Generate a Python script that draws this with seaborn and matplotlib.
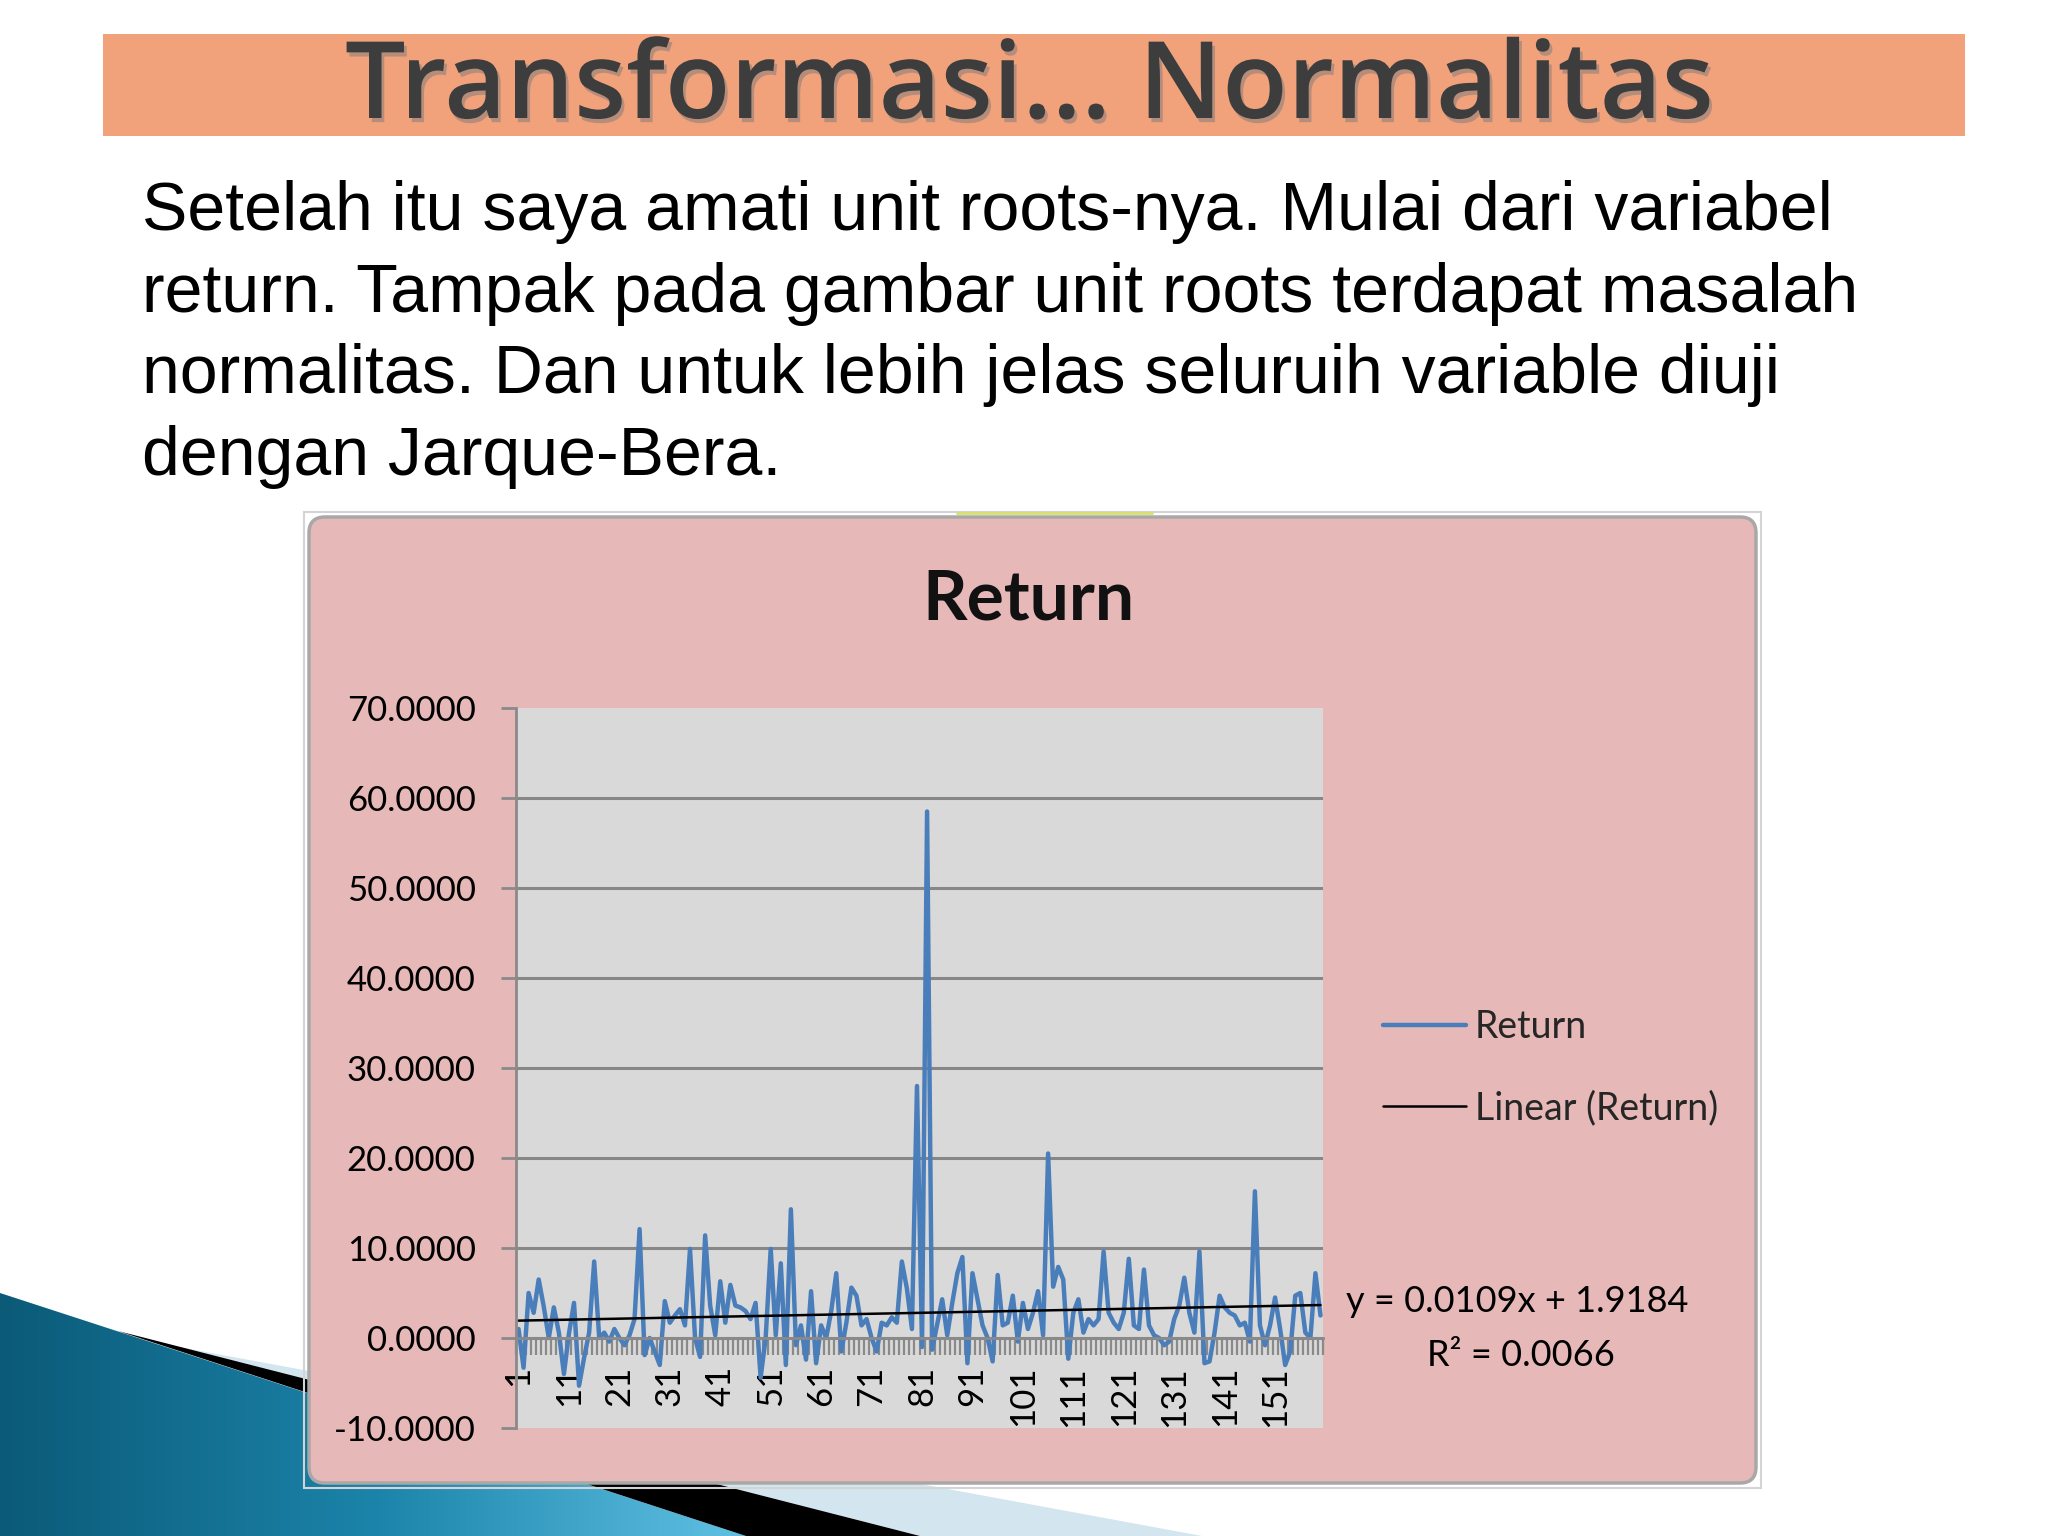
import numpy as np
import pandas as pd
import matplotlib.pyplot as plt
import matplotlib.patheffects as pe
from matplotlib.patches import Polygon, FancyBboxPatch, Rectangle
from matplotlib.colors import LinearSegmentedColormap
from matplotlib.lines import Line2D
import seaborn as sns

# --- Teks slide ---
judul_slide = "Transformasi... Normalitas"
paragraf = [
    "Setelah itu saya amati unit roots-nya. Mulai dari variabel",
    "return. Tampak pada gambar unit roots terdapat masalah",
    "normalitas. Dan untuk lebih jelas seluruih variable diuji",
    "dengan Jarque-Bera.",
]
judul_grafik = "Return"

# --- Data ---
nilai_return = [
    1.0, -3.3, 5.0, 2.8, 6.5, 3.5, 0.0, 3.4, 0.6, -4.0,
    0.5, 3.9, -5.3, -2.2, 0.6, 8.5, 0.0, 0.6, -0.4, 1.0,
    0.0, -0.8, 0.3, 2.1, 12.1, -1.9, 0.0, -1.5, -3.0, 4.1,
    1.7, 2.5, 3.2, 1.4, 9.9, 0.0, -2.1, 11.4, 3.6, 0.3,
    6.3, 1.7, 5.9, 3.6, 3.4, 3.0, 2.1, 3.9, -4.4, 0.0,
    9.9, 0.3, 8.3, -3.0, 14.3, -0.8, 1.4, -2.4, 5.2, -2.8,
    1.4, 0.0, 3.0, 7.2, -1.5, 1.7, 5.6, 4.7, 1.4, 2.1,
    0.0, -1.5, 1.7, 1.4, 2.3, 1.7, 8.5, 5.5, 1.0, 28.0,
    -1.0, 58.5, -1.3, 1.5, 4.3, 0.3, 3.9, 7.2, 9.0, -2.8,
    7.2, 4.3, 1.4, 0.0, -2.6, 7.0, 1.4, 1.7, 4.7, -0.4,
    3.9, 1.0, 2.8, 5.2, 0.3, 20.5, 5.7, 7.9, 6.5, -2.3,
    2.8, 4.3, 0.6, 2.1, 1.4, 2.1, 9.6, 2.8, 1.7, 1.0,
    2.8, 8.8, 1.4, 1.0, 7.6, 1.4, 0.3, 0.0, -0.8, -0.4,
    2.1, 3.6, 6.7, 2.8, 0.6, 9.6, -2.8, -2.6, 0.6, 4.7,
    3.4, 2.8, 2.5, 1.4, 1.7, -0.4, 16.3, 1.4, -0.8, 1.4,
    4.5, 1.0, -3.0, -1.5, 4.7, 5.0, 0.6, 0.0, 7.2, 2.5,
]
periode = list(range(1, len(nilai_return) + 1))
label_x = [1, 11, 21, 31, 41, 51, 61, 71, 81, 91, 101, 111, 121, 131, 141, 151]
tick_y = [-10, 0, 10, 20, 30, 40, 50, 60, 70]

# trendline Excel
slope = 0.0109
intercept = 1.9184
r_kuadrat = 0.0066

df = pd.DataFrame({"Periode": periode, "Return": nilai_return})
df["Linear (Return)"] = intercept + slope * df["Periode"]

sns.set_theme(style="white")
plt.rcParams["font.family"] = ["Lato", "DejaVu Sans"]

W, H = 2048, 1536
fig = plt.figure(figsize=(W / 100, H / 100), dpi=100)
fig.patch.set_facecolor("white")

# latar slide dalam koordinat piksel
bg = fig.add_axes([0, 0, 1, 1], zorder=0)
bg.axis("off")

# hiasan kiri bawah
cmap = LinearSegmentedColormap.from_list("swoosh", ["#0B5A78", "#1C84AA", "#62C3E6"])
gradien = np.linspace(0, 1, 256).reshape(1, -1)
im = bg.imshow(gradien, extent=[0, 760, 1536, 1285], cmap=cmap, aspect="auto", zorder=1)
biru = Polygon([(0, 1293), (746, 1536), (0, 1536)], closed=True, facecolor="none", edgecolor="none")
bg.add_patch(biru)
im.set_clip_path(biru)
bg.add_patch(Polygon([(179, 1347), (1202, 1536), (920, 1536)], closed=True,
                     facecolor="#D3E5EF", edgecolor="none", zorder=1))
bg.add_patch(Polygon([(118, 1331), (920, 1536), (746, 1536)], closed=True,
                     facecolor="black", edgecolor="none", zorder=2))

# bar judul
bg.add_patch(Rectangle((103, 34), 1862, 102, facecolor="#F2A27B", edgecolor="none", zorder=2))
bg.text(1030, 90, judul_slide, ha="center", va="center", fontsize=77, fontweight="semibold",
        family=["Open Sans", "DejaVu Sans"], color="#3D3D3D", zorder=3,
        path_effects=[pe.withSimplePatchShadow(offset=(2, -3), shadow_rgbFace="#7A7A7A", alpha=0.5)])

# paragraf
for k, baris in enumerate(paragraf):
    bg.text(142, 230 + k * 81.7, baris, ha="left", va="baseline", fontsize=49,
            family=["Liberation Sans", "DejaVu Sans"], color="black", zorder=3)

# kotak grafik
bg.add_patch(Rectangle((304, 512), 1457, 976, facecolor="none", edgecolor="#D4D4D4", lw=1.5, zorder=2))
bg.add_patch(FancyBboxPatch((309, 517), 1447, 966, boxstyle="round,pad=0,rounding_size=16",
                            facecolor="#E6B8B7", edgecolor="#A8A8A8", lw=2.5, zorder=3))
bg.add_line(Line2D([957, 1152], [513, 513], color="#D8E06A", lw=2, zorder=4))
bg.text(1028, 600, judul_grafik, ha="center", va="center", fontsize=50, fontweight="bold",
        color="#111111", zorder=4)

bg.set_xlim(0, W)
bg.set_ylim(H, 0)

# area plot
kiri, kanan, atas, bawah = 516, 1323, 708, 1428
ax = fig.add_axes([kiri / W, 1 - bawah / H, (kanan - kiri) / W, (bawah - atas) / H], zorder=2)
ax.set_facecolor("#D9D9D9")

sns.lineplot(data=df, x="Periode", y="Return", ax=ax, color="#4A7EBB", lw=3.2, label="Return")
sns.lineplot(data=df, x="Periode", y="Linear (Return)", ax=ax, color="black", lw=1.8,
             label="Linear (Return)")

ax.set_xlim(0.5, len(periode) + 0.5)
ax.set_ylim(min(tick_y), max(tick_y))
ax.set_xlabel("")
ax.set_ylabel("")

ax.set_yticks(tick_y)
ax.set_yticklabels([f"{v:.4f}" for v in tick_y])
ax.yaxis.grid(True, color="#878787", lw=2.2)
ax.xaxis.grid(False)
ax.set_axisbelow(True)
garis = ax.yaxis.get_gridlines()
garis[0].set_visible(False)
garis[-1].set_visible(False)

for s in ["top", "right"]:
    ax.spines[s].set_visible(False)
ax.spines["left"].set_color("#8A8A8A")
ax.spines["left"].set_linewidth(2)
ax.spines["bottom"].set_position(("data", 0))
ax.spines["bottom"].set_color("#8A8A8A")
ax.spines["bottom"].set_linewidth(2)

ax.set_xticks(label_x)
ax.set_xticklabels([str(v) for v in label_x], rotation=90)
ax.set_xticks(np.arange(0.5, len(periode) + 1, 1), minor=True)
ax.tick_params(axis="x", which="major", length=0, pad=20, labelsize=25, colors="black")
ax.tick_params(axis="x", which="minor", bottom=True, length=12, width=1.6, color="#8A8A8A", direction="out")
ax.tick_params(axis="y", which="major", left=True, length=11, width=2, color="#8A8A8A",
               labelsize=25, pad=18, labelcolor="black")

# legenda di kanan
handles, labels = ax.get_legend_handles_labels()
ax.get_legend().remove()
fig.legend(handles, labels, loc="center left", bbox_to_anchor=(1383 / W, 1 - 1068 / H),
           frameon=False, fontsize=27, handlelength=2.2, handletextpad=0.25,
           labelspacing=1.2, borderpad=0, borderaxespad=0)

# persamaan trendline
fig.text(1517 / W, 1 - 1302 / H, f"y = {slope:.4f}x + {intercept:.4f}", ha="center", va="center",
         fontsize=26, color="black")
fig.text(1521 / W, 1 - 1355 / H, f"R² = {r_kuadrat:.4f}", ha="center", va="center",
         fontsize=26, color="black")

fig.savefig("out.png", dpi=100)
plt.close(fig)
